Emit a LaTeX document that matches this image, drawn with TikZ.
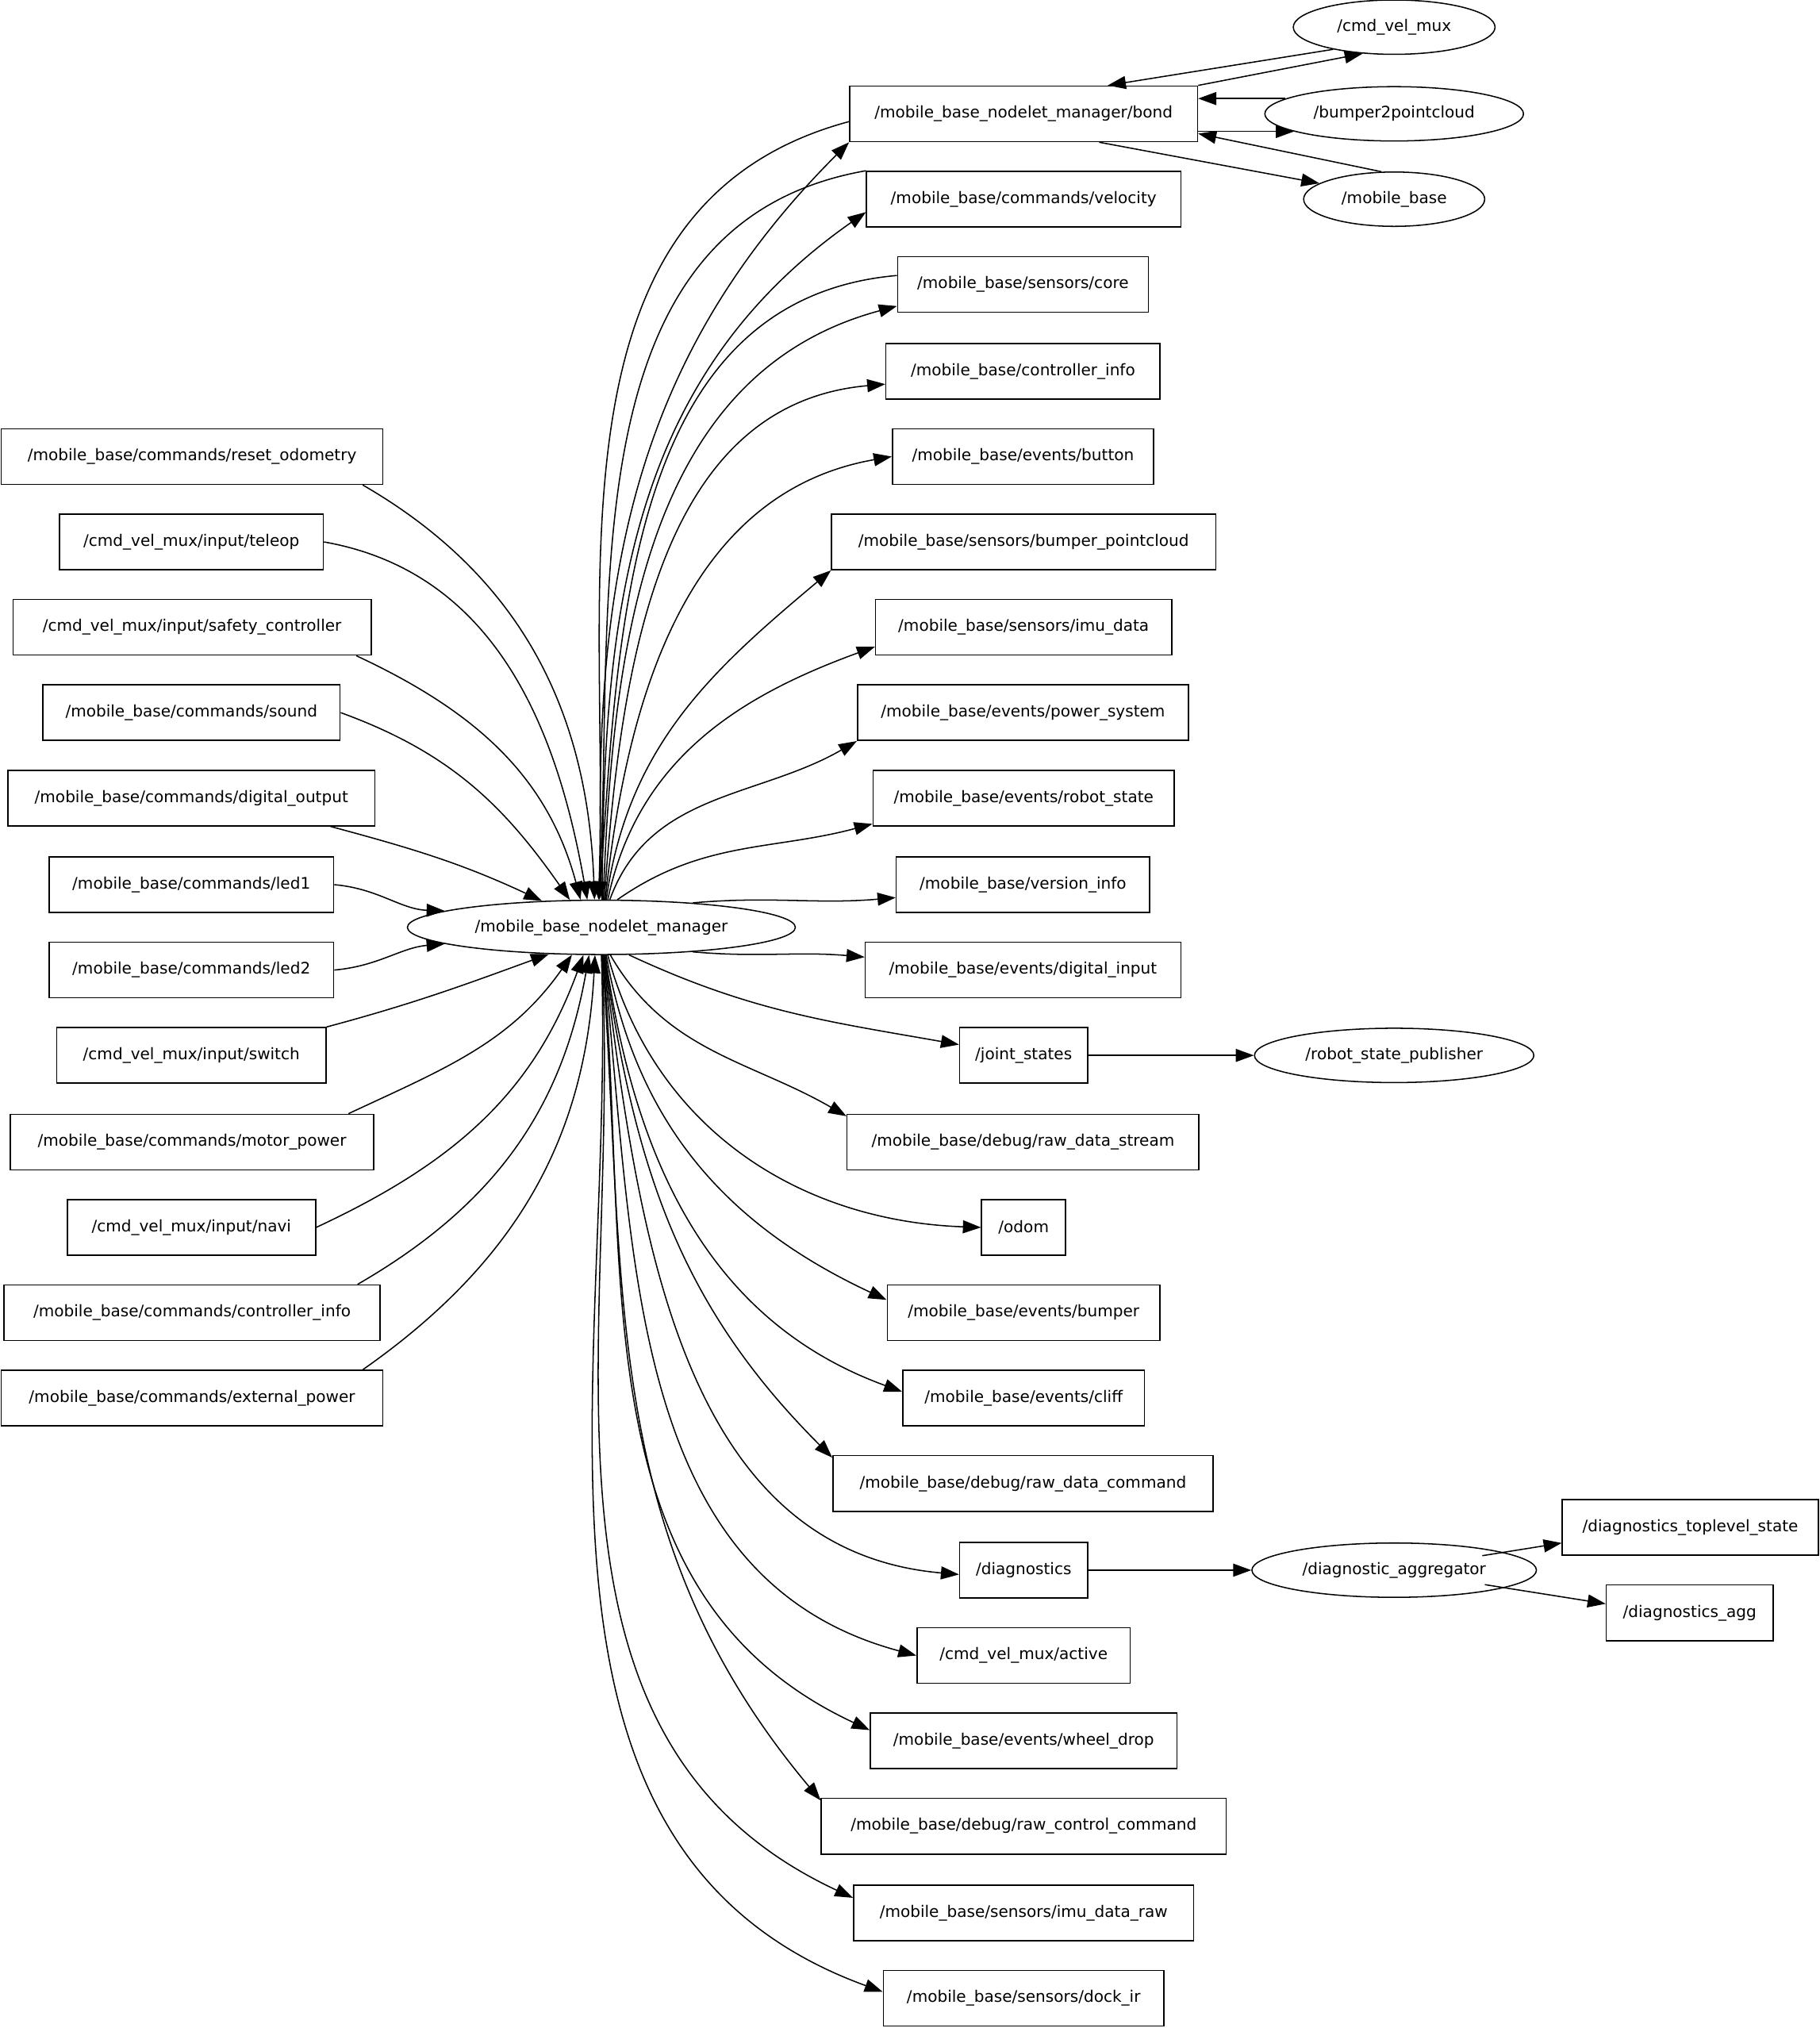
\documentclass[tikz,border=0pt]{standalone}
\usepackage{fontspec}
\setmainfont{DejaVu Sans}
\usetikzlibrary{arrows.meta,shapes.geometric}
\begin{document}
\begin{tikzpicture}[x=0.03cm,y=-0.03cm,
  every node/.style={font=\fontsize{10.5}{12}\selectfont},
  box/.style={draw,line width=0.8pt,minimum width=#1*0.03cm,minimum height=1.29cm,inner sep=0pt},
  ell/.style={draw,line width=0.8pt,ellipse,minimum width=#1*0.06cm,minimum height=1.26cm,inner sep=0pt},
  e/.style={line width=0.8pt,-{Triangle[length=0.42cm,width=0.3cm]}}]
\useasboundingbox (0,0) rectangle (1407,1568);
% center
\node[ell=150] (m) at (465,717) {/mobile\_base\_nodelet\_manager};
% left
\node[box=295] (l1) at (148.5,353) {/mobile\_base/commands/reset\_odometry};
\node[box=204] (l2) at (148,419) {/cmd\_vel\_mux/input/teleop};
\node[box=277] (l3) at (148.5,485) {/cmd\_vel\_mux/input/safety\_controller};
\node[box=230] (l4) at (148,551) {/mobile\_base/commands/sound};
\node[box=284] (l5) at (148,617) {/mobile\_base/commands/digital\_output};
\node[box=220] (l6) at (148,684) {/mobile\_base/commands/led1};
\node[box=220] (l7) at (148,750) {/mobile\_base/commands/led2};
\node[box=208] (l8) at (148,816) {/cmd\_vel\_mux/input/switch};
\node[box=281] (l9) at (148.5,883) {/mobile\_base/commands/motor\_power};
\node[box=192] (l10) at (148,949) {/cmd\_vel\_mux/input/navi};
\node[box=291] (l11) at (148.5,1015) {/mobile\_base/commands/controller\_info};
\node[box=295] (l12) at (148.5,1081) {/mobile\_base/commands/external\_power};
% right
\node[box=269] (r1) at (791.5,88) {/mobile\_base\_nodelet\_manager/bond};
\node[box=243] (r2) at (791.5,154) {/mobile\_base/commands/velocity};
\node[box=194] (r3) at (791,220) {/mobile\_base/sensors/core};
\node[box=212] (r4) at (791,287) {/mobile\_base/controller\_info};
\node[box=202] (r5) at (791,353) {/mobile\_base/events/button};
\node[box=297] (r6) at (791.5,419) {/mobile\_base/sensors/bumper\_pointcloud};
\node[box=229] (r7) at (791.5,485) {/mobile\_base/sensors/imu\_data};
\node[box=256] (r8) at (791,551) {/mobile\_base/events/power\_system};
\node[box=233] (r9) at (791.5,617) {/mobile\_base/events/robot\_state};
\node[box=196] (r10) at (791,684) {/mobile\_base/version\_info};
\node[box=244] (r11) at (791,750) {/mobile\_base/events/digital\_input};
\node[box=99] (r12) at (791.5,816) {/joint\_states};
\node[box=272] (r13) at (791,883) {/mobile\_base/debug/raw\_data\_stream};
\node[box=65] (r14) at (791.5,949) {/odom};
\node[box=211] (r15) at (791.5,1015) {/mobile\_base/events/bumper};
\node[box=187] (r16) at (791.5,1081) {/mobile\_base/events/cliff};
\node[box=294] (r17) at (791,1147) {/mobile\_base/debug/raw\_data\_command};
\node[box=99] (r18) at (791.5,1214) {/diagnostics};
\node[box=165] (r19) at (791.5,1280) {/cmd\_vel\_mux/active};
\node[box=237] (r20) at (791.5,1346) {/mobile\_base/events/wheel\_drop};
\node[box=313] (r21) at (791.5,1412) {/mobile\_base/debug/raw\_control\_command};
\node[box=263] (r22) at (791.5,1479) {/mobile\_base/sensors/imu\_data\_raw};
\node[box=217] (r23) at (791.5,1545) {/mobile\_base/sensors/dock\_ir};
% far right
\node[ell=78] (cvm) at (1078,21) {/cmd\_vel\_mux};
\node[ell=100] (b2p) at (1078,88) {/bumper2pointcloud};
\node[ell=70] (mb) at (1078,154) {/mobile\_base};
\node[ell=108] (rsp) at (1078,816) {/robot\_state\_publisher};
\node[ell=110] (da) at (1078,1214) {/diagnostic\_aggregator};
\node[box=198] (dts) at (1307,1181) {/diagnostics\_toplevel\_state};
\node[box=129] (dag) at (1306.5,1247) {/diagnostics\_agg};
% left edges
\draw[e] (l1.south east) ++(-16,0) to[out=-30,in=92] (m.104);
\draw[e] (l2.east) to[out=-10,in=100] (m.117);
\draw[e] (l3.south east) ++(-12,0) to[out=-25,in=105] (m.127);
\draw[e] (l4.east) to[out=-20,in=125] (m.139);
\draw[e] (l5.south east) ++(-35,0) to[out=-15,in=155] (m.156);
\draw[e] (l6.east) to[out=-5,in=178] (m.174);
\draw[e] (l7.east) to[out=5,in=185] (m.186);
\draw[e] (l8.north east) to[out=15,in=-160] (m.207);
\draw[e] (l9.north east) ++(-20,0) to[out=25,in=-125] (m.223);
\draw[e] (l10.east) to[out=25,in=-110] (m.237);
\draw[e] (l11.north east) ++(-18,0) to[out=30,in=-100] (m.246);
\draw[e] (l12.north east) ++(-16,0) to[out=35,in=-93] (m.257);
% right edges (upper)
\draw[e] (m.89) to[out=92,in=225] (r1.south west);
\draw[e] (r1.west) ++(0,6) to[out=195,in=88] (m.96);
\draw[e] (m.88) to[out=90,in=215] ([yshift=-0.3cm]r2.west);
\draw[e] (r2.west) ++(0,-22) to[out=190,in=87] (m.95);
\draw[e] (m.86) to[out=88,in=195] ([yshift=-0.5cm]r3.west);
\draw[e] (r3.west) ++(0,-7) to[out=185,in=86] (m.94);
\draw[e] (m.84) to[out=86,in=185] ([yshift=-0.3cm]r4.west);
\draw[e] (m.82) to[out=84,in=190] (r5.west);
\draw[e] (m.80) to[out=82,in=220] ([yshift=-0.66cm]r6.west);
\draw[e] (m.77) to[out=78,in=200] ([yshift=-0.45cm]r7.west);
\draw[e] (m.73) to[out=70,in=210] (r8.south west);
\draw[e] (m.60) to[out=35,in=195] ([yshift=-0.6cm]r9.west);
\draw[e] (m.15) to[out=5,in=185] ([yshift=-0.3cm]r10.west);
\draw[e] (m.-15) to[out=-5,in=175] ([yshift=0.3cm]r11.west);
\draw[e] (m.-45) to[out=-25,in=170] ([yshift=0.25cm]r12.west);
\draw[e] (m.-72) to[out=-60,in=150] ([yshift=0.6cm]r13.west);
\draw[e] (m.-77) to[out=-75,in=178] (r14.west);
\draw[e] (m.-80) to[out=-80,in=155] ([yshift=0.3cm]r15.west);
\draw[e] (m.-82) to[out=-82,in=160] ([yshift=0.15cm]r16.west);
\draw[e] (m.-84) to[out=-82,in=135] ([yshift=0.6cm]r17.west);
\draw[e] (m.-85) to[out=-83,in=175] ([yshift=-0.1cm]r18.west);
\draw[e] (m.-86) to[out=-84,in=165] (r19.west);
\draw[e] (m.-87) to[out=-85,in=155] ([yshift=0.25cm]r20.west);
\draw[e] (m.-88) to[out=-86,in=130] ([yshift=0.6cm]r21.west);
\draw[e] (m.-89) to[out=-87,in=155] ([yshift=0.35cm]r22.west);
\draw[e] (m.-90) to[out=-88,in=160] ([yshift=0.15cm]r23.west);
% top cluster
\draw[e] (r1.north east) ++(0,0) to (cvm.220);
\draw[e] (cvm.200) to ([xshift=6cm]r1.north west);
\draw[e] (b2p.172) to (r1.east |- b2p.172);
\draw[e] (r1.east |- b2p.190) to (b2p.190);
\draw[e] (mb.115) to ([yshift=0.2cm]r1.south east);
\draw[e] ([xshift=5.8cm]r1.south west) to (mb.168);
% other straight edges
\draw[e] (r12.east) to (rsp.west);
\draw[e] (r18.east) to (da.west);
\draw[e] (da.north east) ++(-10,4) to (dts.west |- 0,1193);
\draw[e] (da.south east) ++(-8,-4) to (dag.west |- 0,1240);
\end{tikzpicture}
\end{document}
